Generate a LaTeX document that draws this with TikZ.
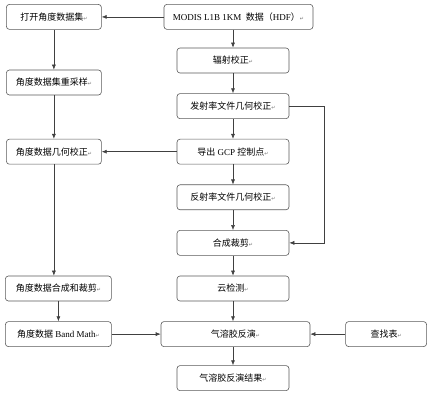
\documentclass[tikz,border=0pt]{standalone}
\usepackage{fontspec}
\setmainfont{Liberation Serif}
\newfontfamily\cjk{Noto Sans CJK SC}
\newfontfamily\dejavu{DejaVu Sans}
\usepackage{tikz}
\usetikzlibrary{arrows.meta,positioning}
\newcommand{\zh}[1]{{\cjk #1}}
\newcommand{\pmark}{{\dejavu\fontsize{5}{5}\selectfont\color{black!55}↵}}

\begin{document}
\begin{tikzpicture}[x=1pt,y=1pt,node distance=20pt,>={Latex[length=5pt,width=4pt]}]
\tikzset{
  box/.style={draw=black!65,rounded corners=3pt,minimum height=25pt,
    font=\fontsize{9}{11}\selectfont,line width=0.6pt},
  link/.style={->,draw=black!75,line width=0.6pt}
}
\useasboundingbox (0,0) rectangle (429,-414);

% main column
\node[box,minimum width=112pt] (rad) at (233,-60.5) {\zh{辐射校正}\pmark};
\node[box,minimum width=149pt,above=18pt of rad,xshift=5.5pt] (modis) {MODIS L1B 1KM\ \ \zh{数据（}HDF\zh{）}\pmark};
\node[box,minimum width=112pt,below=of rad] (emis) {\zh{发射率文件几何校正}\pmark};
\node[box,minimum width=112pt,below=of emis] (gcp) {\zh{导出} GCP \zh{控制点}\pmark};
\node[box,minimum width=112pt,below=of gcp] (refl) {\zh{反射率文件几何校正}\pmark};
\node[box,minimum width=112pt,below=of refl] (clip) {\zh{合成裁剪}\pmark};
\node[box,minimum width=112pt,below=of clip] (cloud) {\zh{云检测}\pmark};
\node[box,minimum width=149pt,below=of cloud,xshift=2.5pt] (inv) {\zh{气溶胶反演}\pmark};
\node[box,minimum width=112pt,below=39pt of cloud,yshift=-25pt] (result) {\zh{气溶胶反演结果}\pmark};
\node[box,minimum width=81pt,right=35pt of inv] (lut) {\zh{查找表}\pmark};

% angle data column
\node[box,minimum width=95pt,left=62pt of modis] (open) {\zh{打开角度数据集}\pmark};
\node[box,minimum width=95pt,below=40pt of open] (resample) {\zh{角度数据集重采样}\pmark};
\node[box,minimum width=95pt,left=75pt of gcp] (geo) {\zh{角度数据几何校正}\pmark};
\node[box,minimum width=106pt,left=65pt of cloud] (merge) {\zh{角度数据合成和裁剪}\pmark};
\node[box,minimum width=106pt,left=49pt of inv] (bandmath) {\zh{角度数据} Band Math\pmark};

\draw[link] (modis.south -| rad.north) -- (rad.north);
\draw[link] (rad) -- (emis);
\draw[link] (emis) -- (gcp);
\draw[link] (gcp) -- (refl);
\draw[link] (refl) -- (clip);
\draw[link] (clip) -- (cloud);
\draw[link] (cloud.south) -- (cloud.south |- inv.north);
\draw[link] (inv.south -| result.north) -- (result.north);
\draw[link] (emis.east) -- ++(35,0) |- (clip.east);
\draw[link] (lut) -- (inv);

\draw[link] (modis) -- (open);
\draw[link] (open) -- (resample);
\draw[link] (resample) -- (geo);
\draw[link] (gcp) -- (geo);
\draw[link] (geo.south) -- (geo.south |- merge.north);
\draw[link] (merge) -- (bandmath);
\draw[link] (bandmath) -- (inv);
\end{tikzpicture}
\end{document}
